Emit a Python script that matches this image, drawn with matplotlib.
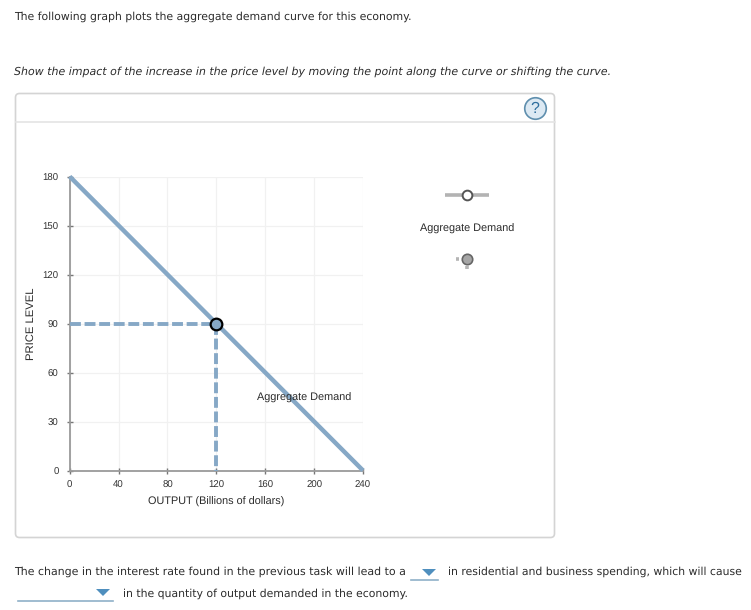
import matplotlib
matplotlib.use("Agg")
import matplotlib.pyplot as plt
from matplotlib.patches import FancyBboxPatch, Polygon
from matplotlib.transforms import ScaledTranslation

plt.rcParams["text.hinting"] = "no_hinting"

W, H = 751, 610
output_vals = [0, 240]
price_vals = [180, 0]
point_output = 120
point_price = 90
x_ticks = [0, 40, 80, 120, 160, 200, 240]
y_ticks = [0, 30, 60, 90, 120, 150, 180]
BLUE = "#86a8c6"
TXT = "#2b2b2b"
SANS = "Liberation Sans"
UI = "DejaVu Sans"

fig = plt.figure(figsize=(W / 100, H / 100), dpi=100, facecolor="white")

bg = fig.add_axes([0, 0, 1, 1], zorder=0)
bg.set_xlim(0, W)
bg.set_ylim(H, 0)
bg.axis("off")

bg.text(14, 16.8, "The following graph plots the aggregate demand curve for this economy.",
        fontsize=7.83, family=UI, color=TXT, va="center")
bg.text(14, 71.8, "Show the impact of the increase in the price level by moving the point along the curve or shifting the curve.",
        fontsize=7.89, family=UI, color=TXT, va="center", style="italic")
bg.add_patch(FancyBboxPatch((15.5, 93.5), 539, 444, boxstyle="round,pad=0,rounding_size=4",
                            fc="white", ec="#d4d4d4", lw=1.2))
bg.plot([16, 554.5], [122, 122], color="#e4e4e4", lw=1.2)
bg.plot([535], [108], "o", ms=15.5, mfc="#dce9f3", mec="#5f8fae", mew=1.2)
bg.text(535, 108.5, "?", fontsize=11.5, family=SANS, color="#2f6f9f",
        ha="center", va="center")

# legend palette
bg.plot([445, 489], [194.5, 194.5], color="#b3b3b3", lw=2.6, solid_capstyle="butt")
bg.plot([467], [194.5], "o", ms=7, mfc="white", mec="#555555", mew=1.4)
bg.text(467, 229.2, "Aggregate Demand", fontsize=7.85, family=SANS, color=TXT, ha="center", va="center")
bg.plot([467], [258.5], "o", ms=7.5, mfc="#a6a6a6", mec="#666666", mew=1.2)
bg.plot([455.5, 459], [258.5, 258.5], color="#b5b5b5", lw=2.6, solid_capstyle="butt")
bg.plot([467, 467], [265.5, 269], color="#b5b5b5", lw=2.6, solid_capstyle="butt")

# sentence below
bg.text(14, 571.8, "The change in the interest rate found in the previous task will lead to a",
        fontsize=7.93, family=UI, color=TXT, va="center")
bg.text(448, 571.8, "in residential and business spending, which will cause",
        fontsize=7.85, family=UI, color=TXT, va="center")
bg.text(123, 593.8, "in the quantity of output demanded in the economy.",
        fontsize=7.87, family=UI, color=TXT, va="center")
bg.plot([411, 438], [579.5, 579.5], color="#8fb0c8", lw=1.2)
bg.plot([18, 113], [601, 601], color="#8fb0c8", lw=1.2)
bg.add_patch(Polygon([[422, 569], [436, 569], [429, 576]], fc="#4f8fbe", ec="none"))
bg.add_patch(Polygon([[96, 589], [110, 589], [103, 596]], fc="#4f8fbe", ec="none"))

# plot
left, right, top, bottom = 69.7, 363.0, 176.5, 470.5
ax = fig.add_axes([left / W, 1 - bottom / H, (right - left) / W, (bottom - top) / H], zorder=1)
ax.set_xlim(0, 240)
ax.set_ylim(0, 180)
ax.patch.set_alpha(0)
ax.grid(True, color="#f1f1f1", lw=0.9)
ax.set_axisbelow(True)
for s in ("top", "right"):
    ax.spines[s].set_visible(False)
for s in ("left", "bottom"):
    ax.spines[s].set_color("#9a9a9a")
    ax.spines[s].set_linewidth(1.3)
ax.set_xticks(x_ticks)
ax.set_yticks(y_ticks)
ax.tick_params(axis="both", direction="inout", length=5, width=1, color="#777777",
               labelsize=6.9, labelcolor="#333333", labelfontfamily=SANS, pad=4.5)
ax.tick_params(axis="y", pad=5.5)
offset = ScaledTranslation(0, -0.8 / 72, fig.dpi_scale_trans)
for lab in ax.get_yticklabels():
    lab.set_transform(lab.get_transform() + offset)
ax.set_xlabel("OUTPUT (Billions of dollars)", fontsize=7.83, family=SANS, color=TXT, labelpad=5.3)
ax.set_ylabel("PRICE LEVEL", fontsize=8.1, family=SANS, color=TXT, labelpad=4.3)

ax.plot(output_vals, price_vals, color=BLUE, lw=3.2, clip_on=False, solid_capstyle="butt", zorder=3)
ax.plot([0, point_output], [point_price, point_price], color=BLUE, lw=2.8,
        dashes=(2.8, 0.95), clip_on=False, zorder=3)
ax.plot([point_output, point_output], [point_price, 0], color=BLUE, lw=2.8,
        dashes=(2.8, 0.95), clip_on=False, zorder=3)
ax.plot([point_output], [point_price], "o", ms=8.4, mfc=BLUE, mec="black", mew=1.6,
        clip_on=False, zorder=4)
ax.text(192, 44.6, "Aggregate Demand", fontsize=7.85, family=SANS, color=TXT,
        ha="center", va="center", zorder=5)

fig.savefig("out.png", dpi=100, facecolor="white")
